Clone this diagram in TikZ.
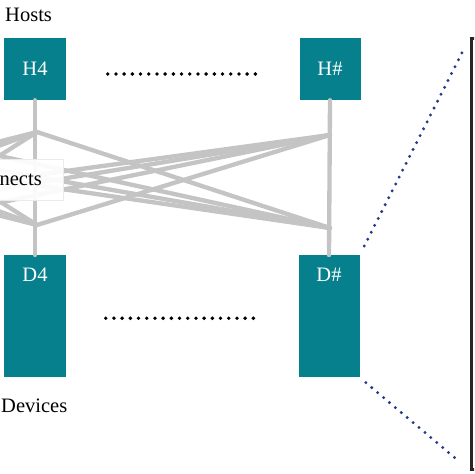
\documentclass[tikz,border=0pt]{standalone}
\usepackage{fontspec}
\setmainfont{Liberation Serif}
\definecolor{boxteal}{RGB}{6,128,140}
\definecolor{wiregray}{RGB}{196,196,196}
\definecolor{zoomblue}{RGB}{38,58,140}
\begin{document}
\begin{tikzpicture}[
		x=0.03cm, y=-0.03cm,
		every node/.style={font=\fontsize{17.5}{20}\selectfont},
		unit/.style={fill=boxteal, text=white, inner sep=0pt, minimum width=1.83cm, minimum height=1.86cm},
		devunit/.style={unit, anchor=north, minimum height=3.66cm, text height=0.8cm, text depth=2.86cm},
		wire/.style={draw=wiregray, line width=3.7pt, line cap=round},
		dotrow/.style={line width=3.3pt, line cap=round, dash pattern=on 0pt off 7pt},
		zoomline/.style={draw=zoomblue, line width=2.8pt, line cap=round, dash pattern=on 0pt off 6.6pt}
	]
		\useasboundingbox (0,0) rectangle (474,474);
		\clip (0,0) rectangle (474,474);
		% junctions on the host lines (1-3 lie left of the crop, 5 is H#)
		\coordinate (t1) at (-330,132);
		\coordinate (b1) at (-330,225);
		\coordinate (t2) at (-220,132);
		\coordinate (b2) at (-220,225);
		\coordinate (t3) at (-110,132);
		\coordinate (b3) at (-110,225);
		\coordinate (t4) at (37,132);
		\coordinate (b4) at (37,225);
		\coordinate (t5) at (330,135);
		\coordinate (b5) at (330,228);
		\foreach \i in {1,...,5}{
			\foreach \j in {1,...,5}{
				\ifnum\i=\j\else
					\draw[wire] (t\i) -- (b\j);
				\fi
			}
		}
		\node[unit] (h4) at (35,69) {H4};
		\node[unit] (hh) at (330,69) {H\#};
		\node[devunit] (d4) at (35,255) {D4};
		\node[devunit] (dh) at (329,255) {D\#};
		\draw[wire] (h4.south) -- (d4.north);
		\draw[wire] (hh.south) -- (dh.north);
		\node[fill=white, fill opacity=0.92, text opacity=1, draw=black!8, anchor=east,
			inner xsep=0.63cm, minimum height=1.23cm] (ic) at (63,180) {nects};
		\node[anchor=base west, inner sep=0pt] (hosts) at (5,21) {Hosts};
		\node[anchor=base west, inner sep=0pt] (devs) at (1,412) {Devices};
		\draw[dotrow, shorten <=1.26cm, shorten >=1.11cm] ([yshift=-0.15cm]h4.east) -- ([yshift=-0.15cm]hh.west);
		\draw[dotrow, shorten <=1.2cm, shorten >=1.2cm] ([yshift=-0.06cm]d4.east) -- ([yshift=-0.06cm]dh.west);
		\node[draw=black!85, line width=2.2pt, anchor=north west, inner sep=0pt,
			minimum width=1.2cm, minimum height=12.93cm] (zoom) at (470,37) {};
		\draw[zoomline, shorten <=0.3cm, shorten >=0.5cm] (dh.north east) -- (zoom.north west);
		\draw[zoomline, shorten <=0.24cm, shorten >=0.55cm] (dh.south east) -- (zoom.south west);
	\end{tikzpicture}
\end{document}
